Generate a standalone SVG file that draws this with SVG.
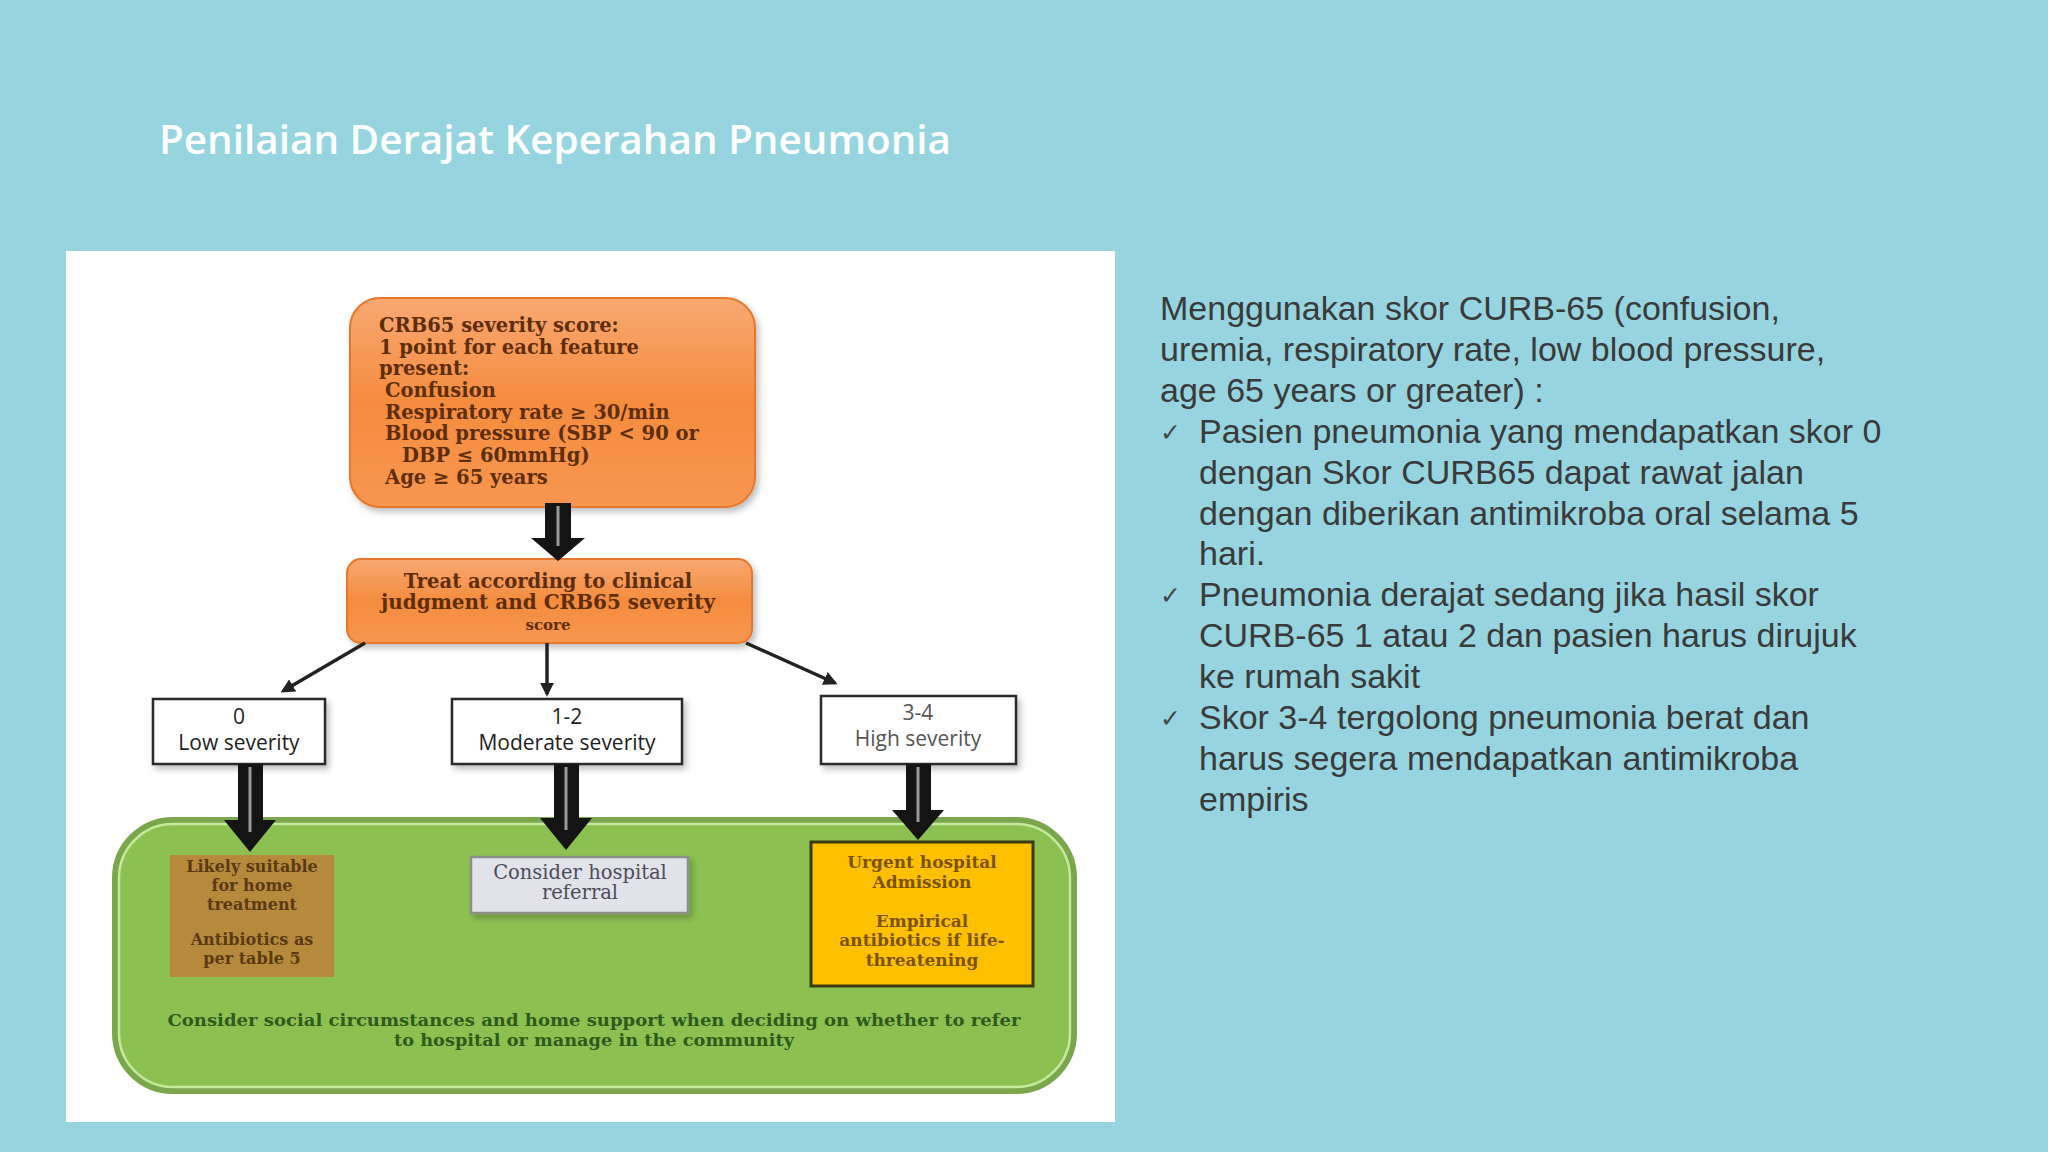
<svg xmlns="http://www.w3.org/2000/svg" width="2048" height="1152" viewBox="0 0 2048 1152">
<defs>
<style>
.title{font-family:"Open Sans","Liberation Sans",sans-serif;font-size:40px;fill:#ffffff;font-weight:600}
.body{font-family:"Liberation Sans",Arial,sans-serif;font-size:34px;fill:#3a3a3a}
.chk{font-family:"DejaVu Sans",sans-serif;font-size:25px;fill:#444}
.ot{font-family:"DejaVu Serif","Liberation Serif",serif;font-weight:bold;font-size:19.5px;fill:#5e2e0c}
.sv{font-family:"Open Sans","Liberation Sans",sans-serif;font-size:21px;fill:#1e1e1e;text-anchor:middle}
.bt{font-family:"DejaVu Serif","Liberation Serif",serif;font-weight:bold;font-size:16px;fill:#5a3a12;text-anchor:middle}
.gt{font-family:"DejaVu Serif","Liberation Serif",serif;font-size:19.5px;fill:#4c4c5a;text-anchor:middle}
.yt{font-family:"DejaVu Serif","Liberation Serif",serif;font-weight:bold;font-size:17px;fill:#7a5200;text-anchor:middle}
.grt{font-family:"DejaVu Serif","Liberation Serif",serif;font-weight:bold;font-size:17px;fill:#2f5a1c;text-anchor:middle}
.sbox{fill:#ffffff;stroke:#2a2a2a;stroke-width:2.5}
.conn{stroke:#222;stroke-width:3.5;fill:none}
.fat{fill:#141414}
.stripe{stroke:#9a9a9a;stroke-width:3}
</style>
<linearGradient id="og" x1="0" y1="0" x2="0" y2="1">
<stop offset="0" stop-color="#f8a872"/>
<stop offset="0.5" stop-color="#f58c3e"/>
<stop offset="1" stop-color="#f79650"/>
</linearGradient>
<filter id="sh" x="-10%" y="-10%" width="130%" height="130%">
<feDropShadow dx="3" dy="4" stdDeviation="3" flood-color="#000" flood-opacity="0.25"/>
</filter>
<marker id="ah" viewBox="0 0 10 10" refX="8" refY="5" markerWidth="4" markerHeight="4" orient="auto">
<path d="M0,0 L10,5 L0,10 Z" fill="#222"/>
</marker>
</defs>
<rect width="2048" height="1152" fill="#96d4df"/>
<text class="title" x="159" y="154" textLength="792" lengthAdjust="spacingAndGlyphs">Penilaian Derajat Keperahan Pneumonia</text>
<rect x="66" y="251" width="1049" height="871" fill="#ffffff"/>

<g id="community">
<rect x="115" y="820" width="959" height="271" rx="58" fill="#8cc152" stroke="#7aa64c" stroke-width="6"/>
<rect x="119" y="824" width="951" height="263" rx="54" fill="none" stroke="#c4e89c" stroke-width="2.5"/>
<text class="grt" x="594" y="1026" textLength="853" lengthAdjust="spacingAndGlyphs">Consider social circumstances and home support when deciding on whether to refer</text>
<text class="grt" x="594" y="1046" textLength="400" lengthAdjust="spacingAndGlyphs">to hospital or manage in the community</text>
</g>

<g id="crb65">
<rect x="350" y="298" width="405" height="209" rx="30" fill="url(#og)" stroke="#e7772a" stroke-width="2" filter="url(#sh)"/>
<text class="ot" x="379" y="332">CRB65 severity score:</text>
<text class="ot" x="379" y="354">1 point for each feature</text>
<text class="ot" x="379" y="375">present:</text>
<text class="ot" x="385" y="397">Confusion</text>
<text class="ot" x="385" y="419">Respiratory rate ≥ 30/min</text>
<text class="ot" x="385" y="440">Blood pressure (SBP &lt; 90 or</text>
<text class="ot" x="402" y="462">DBP ≤ 60mmHg)</text>
<text class="ot" x="385" y="484">Age ≥ 65 years</text>
</g>

<g id="treat">
<rect x="347" y="559" width="405" height="84" rx="14" fill="url(#og)" stroke="#e7772a" stroke-width="2" filter="url(#sh)"/>
<text class="ot" x="548" y="588" text-anchor="middle">Treat according to clinical</text>
<text class="ot" x="548" y="609" text-anchor="middle" textLength="334" lengthAdjust="spacingAndGlyphs">judgment and CRB65 severity</text>
<text class="ot" x="548" y="630" text-anchor="middle" style="font-size:15px">score</text>
</g>

<g id="low">
<rect class="sbox" x="153" y="699" width="172" height="65" filter="url(#sh)"/>
<text class="sv" x="239" y="724">0</text>
<text class="sv" x="239" y="750">Low severity</text>
</g>
<g id="moderate">
<rect class="sbox" x="452" y="699" width="230" height="65" filter="url(#sh)"/>
<text class="sv" x="567" y="724">1-2</text>
<text class="sv" x="567" y="750">Moderate severity</text>
</g>
<g id="high">
<rect class="sbox" x="821" y="696" width="195" height="68" filter="url(#sh)"/>
<text class="sv" x="918" y="720" style="fill:#555">3-4</text>
<text class="sv" x="918" y="746" style="fill:#555">High severity</text>
</g>

<g id="home">
<rect x="170" y="855" width="164" height="122" fill="#b6893d"/>
<text class="bt" x="252" y="872">Likely suitable</text>
<text class="bt" x="252" y="891">for home</text>
<text class="bt" x="252" y="910">treatment</text>
<text class="bt" x="252" y="945">Antibiotics as</text>
<text class="bt" x="252" y="964">per table 5</text>
</g>
<g id="referral">
<rect x="471" y="857" width="217" height="56" fill="#e2e2ea" stroke="#8a8f88" stroke-width="2.5" filter="url(#sh)"/>
<text class="gt" x="580" y="879">Consider hospital</text>
<text class="gt" x="580" y="899">referral</text>
</g>
<g id="admission">
<rect x="811" y="842" width="222" height="144" fill="#ffc000" stroke="#3a3a14" stroke-width="3"/>
<text class="yt" x="922" y="868">Urgent hospital</text>
<text class="yt" x="922" y="888">Admission</text>
<text class="yt" x="922" y="927">Empirical</text>
<text class="yt" x="922" y="946">antibiotics if life-</text>
<text class="yt" x="922" y="966">threatening</text>
</g>

<g id="connectors">
<path class="fat" d="M545,503 L571,503 L571,538 L585,538 L558,561 L531,538 L545,538 Z"/>
<line class="stripe" x1="558" y1="506" x2="558" y2="546"/>
<line class="conn" x1="365" y1="643" x2="283" y2="691" marker-end="url(#ah)"/>
<line class="conn" x1="547" y1="643" x2="547" y2="694" marker-end="url(#ah)"/>
<line class="conn" x1="746" y1="643" x2="835" y2="683" marker-end="url(#ah)"/>
<path class="fat" d="M238,764 L263,764 L263,820 L276,820 L250,852 L224,820 L238,820 Z"/>
<line class="stripe" x1="250" y1="767" x2="250" y2="832"/>
<path class="fat" d="M554,764 L579,764 L579,818 L592,818 L566,850 L540,818 L554,818 Z"/>
<line class="stripe" x1="566" y1="767" x2="566" y2="830"/>
<path class="fat" d="M906,764 L931,764 L931,810 L944,810 L918,840 L892,810 L906,810 Z"/>
<line class="stripe" x1="918" y1="767" x2="918" y2="822"/>
</g>

<g id="notes">
<text class="body" x="1160" y="320">Menggunakan skor CURB-65 (confusion,</text>
<text class="body" x="1160" y="361">uremia, respiratory rate, low blood pressure,</text>
<text class="body" x="1160" y="402">age 65 years or greater) :</text>
<text class="chk" x="1160" y="441">✓</text>
<text class="body" x="1199" y="443">Pasien pneumonia yang mendapatkan skor 0</text>
<text class="body" x="1199" y="484">dengan Skor CURB65 dapat rawat jalan</text>
<text class="body" x="1199" y="525">dengan diberikan antimikroba oral selama 5</text>
<text class="body" x="1199" y="565">hari.</text>
<text class="chk" x="1160" y="604">✓</text>
<text class="body" x="1199" y="606">Pneumonia derajat sedang jika hasil skor</text>
<text class="body" x="1199" y="647">CURB-65 1 atau 2 dan pasien harus dirujuk</text>
<text class="body" x="1199" y="688">ke rumah sakit</text>
<text class="chk" x="1160" y="727">✓</text>
<text class="body" x="1199" y="729">Skor 3-4 tergolong pneumonia berat dan</text>
<text class="body" x="1199" y="770">harus segera mendapatkan antimikroba</text>
<text class="body" x="1199" y="811">empiris</text>
</g>
</svg>
